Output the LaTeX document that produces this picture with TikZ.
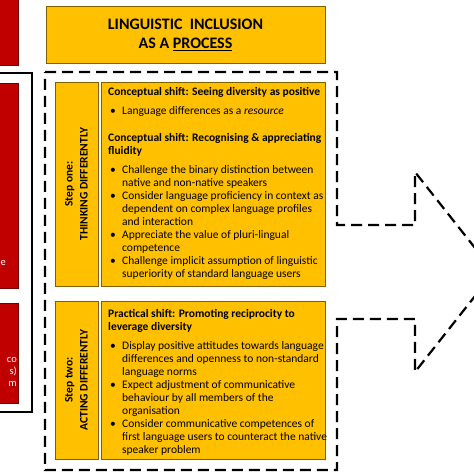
\documentclass[tikz,border=0pt]{standalone}
\usepackage{fontspec}
\setmainfont{Carlito}
\usepackage{xcolor}
\usepackage{tikz}
\usetikzlibrary{arrows.meta, positioning}
\definecolor{C_GOLD} {HTML}{FFC000}
\definecolor{C_GOLDE}{HTML}{7F6000}
\definecolor{C_RED}  {HTML}{C00000}
\definecolor{C_REDE} {HTML}{6E0000}
\newcommand{\bul}{\makebox[14pt][l]{\hspace{2pt}\textbullet}}
\newcommand{\ind}{\hspace*{14pt}}
\tikzset{
  %% -- title banner --
  LI/head/.style={
    draw=C_GOLDE, fill=C_GOLD, inner sep=0pt,
    minimum width=279pt, minimum height=57pt,
    align=center, font=\fontsize{16}{19}\selectfont\bfseries
  },
  %% -- step label box (left column) --
  LI/step/.style={
    draw=C_GOLDE, fill=C_GOLD, inner sep=0pt, minimum width=43pt
  },
  %% -- step content box --
  LI/body/.style={
    draw=C_GOLDE, fill=C_GOLD, inner sep=0pt, minimum width=224pt
  },
  %% -- rotated step label text --
  LI/steptxt/.style={
    rotate=90, align=center, inner sep=0pt,
    font=\fontsize{11.5}{15}\selectfont\bfseries
  },
  %% -- content text --
  LI/txt/.style={
    anchor=north west, align=left, inner sep=0pt,
    font=\fontsize{11.5}{13}\selectfont
  },
  %% -- red boxes (left, cut off) --
  LI/red/.style={
    draw=C_REDE, fill=C_RED, inner sep=0pt, minimum width=28pt
  },
  LI/redtxt/.style={
    text=white, align=right, inner sep=0pt,
    font=\fontsize{10.5}{12}\selectfont
  },
  LI/frame/.style={draw=black, line width=2pt, inner sep=0pt},
  %% -- dashed arrow outline --
  LI/outline/.style={
    draw=black, line width=2.2pt, dash pattern=on 11pt off 6pt
  },
}

\begin{document}
\begin{tikzpicture}[x=1pt, y=-1pt]
\useasboundingbox (0,0) rectangle (474,474);
\clip (0,0) rectangle (474,474);

%% Left column (cut off)
\node[LI/red] (redtop) at (4, 27.5) [minimum height=75pt] {};
\node[LI/frame, minimum width=42pt, minimum height=339pt] (frame)
  at (11, 242.5) {};
\node[LI/red, minimum height=205pt] (redmid) at (4, 185.5) {};
\node[LI/red, minimum height=100pt] (redlow) at (4, 353) {};
\node[LI/redtxt, anchor=east] (redA) at (6, 263) {e};
\node[LI/redtxt, anchor=east] (redB) at (17, 372) {co\\s)\\m};

%% Title
\node[LI/head] (head) at (185.5, 34.5)
  {LINGUISTIC~~INCLUSION\\AS A \underline{PROCESS}};

%% Dashed arrow
\draw[LI/outline] (45,72) -- (337,72) -- (337,225) -- (415,225)
  -- (415,172) -- (494,272) -- (415,372) -- (415,319) -- (337,319)
  -- (337,470) -- (45,470) -- cycle;

%% Step one
\node[LI/step, minimum height=204pt] (step1) at (76.5, 184) {};
\node[LI/body, minimum height=204pt] (body1) at (213, 184) {};
\node[LI/steptxt] (lbl1) at (step1.center)
  {Step one:\\THINKING DIFFERENTLY};
\node[LI/txt] (txt1) at (108, 87.5) {%
  \textbf{Conceptual shift: Seeing diversity as positive}\\[6pt]
  \bul Language differences as a \textit{resource}\\[14pt]
  \textbf{Conceptual shift: Recognising \& appreciating}\\
  \textbf{fluidity}\\[6pt]
  \bul Challenge the binary distinction between\\
  \ind native and non-native speakers\\
  \bul Consider language proficiency in context as\\
  \ind dependent on complex language profiles\\
  \ind and interaction\\
  \bul Appreciate the value of pluri-lingual\\
  \ind competence\\
  \bul Challenge implicit assumption of linguistic\\
  \ind superiority of standard language users};

%% Step two
\node[LI/step, minimum height=158pt] (step2) at (76.5, 380) {};
\node[LI/body, minimum height=158pt] (body2) at (213, 380) {};
\node[LI/steptxt] (lbl2) at (step2.center)
  {Step two:\\ACTING DIFFERENTLY};
\node[LI/txt] (txt2) at (108, 309.5) {%
  \textbf{Practical shift: Promoting reciprocity to}\\
  \textbf{leverage diversity}\\[6pt]
  \bul Display positive attitudes towards language\\
  \ind differences and openness to non-standard\\
  \ind language norms\\
  \bul Expect adjustment of communicative\\
  \ind behaviour by all members of the\\
  \ind organisation\\
  \bul Consider communicative competences of\\
  \ind first language users to counteract the native\\
  \ind speaker problem};
\end{tikzpicture}
\end{document}
